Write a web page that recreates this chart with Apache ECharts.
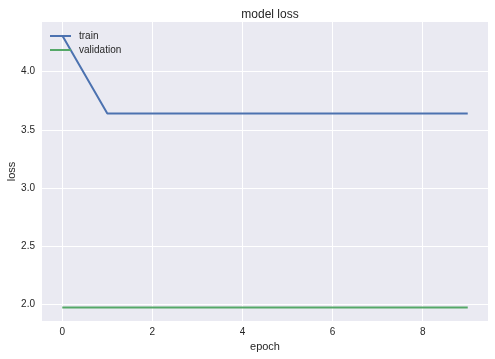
<!DOCTYPE html>
<html><head><meta charset="utf-8">
<script src="https://cdn.jsdelivr.net/npm/echarts@6/dist/echarts.min.js"></script>
<style>html,body{margin:0;padding:0;background:#fff}#c{width:495px;height:359px}</style>
</head><body><div id="c"></div>
<script>
const epochs = [0,1,2,3,4,5,6,7,8,9];
const trainLoss = [4.31,3.64,3.64,3.64,3.64,3.64,3.64,3.64,3.64,3.64];
const valLoss = [1.974,1.974,1.974,1.974,1.974,1.974,1.974,1.974,1.974,1.974];
const xTicks = [0,2,4,6,8];
const yTicks = [2.0,2.5,3.0,3.5,4.0];

const chart = echarts.init(document.getElementById('c'), null, {renderer:'canvas'});
const font = 'Liberation Sans, Arial, sans-serif';
const txt = '#262626';
chart.setOption({
  animation:false,
  backgroundColor:'#fff',
  title:{text:'model loss', left:265, textAlign:'center', top:4,
    textStyle:{fontFamily:font, fontSize:12, fontWeight:'normal', color:txt}},
  legend:{orient:'vertical', left:45, top:26, itemGap:4, itemWidth:21, itemHeight:2,
    icon:'rect', data:['train','validation'],
    textStyle:{fontFamily:font, fontSize:10, color:txt, padding:[0,0,0,3]}},
  grid:{left:42, right:7, top:22, bottom:38, show:true, backgroundColor:'#EAEAF2', borderWidth:0,
    containLabel:false, outerBoundsMode:'none'},
  xAxis:{type:'value', min:-0.45, max:9.45, name:'epoch', nameLocation:'middle', nameGap:20,
    nameMoveOverlap:false,
    nameTextStyle:{fontFamily:font, fontSize:11, color:txt},
    axisLine:{show:false},
    axisTick:{show:false, customValues:xTicks},
    axisLabel:{customValues:xTicks, fontFamily:font, fontSize:10, color:txt, margin:6},
    splitLine:{show:true, lineStyle:{color:'#ffffff', width:1}}},
  yAxis:{type:'value', min:1.857, max:4.427, name:'loss', nameLocation:'middle', nameGap:25, nameRotate:90,
    nameMoveOverlap:false,
    nameTextStyle:{fontFamily:font, fontSize:11, color:txt},
    axisLine:{show:false},
    axisTick:{show:false, customValues:yTicks},
    axisLabel:{customValues:yTicks, fontFamily:font, fontSize:10, color:txt, margin:7,
      formatter:v=>v.toFixed(1)},
    splitLine:{show:true, lineStyle:{color:'#ffffff', width:1}}},
  series:[
    {name:'train', type:'line', data:epochs.map((e,i)=>[e,trainLoss[i]]), showSymbol:false,
     symbol:'none', lineStyle:{color:'#4C72B0', width:2}, itemStyle:{color:'#4C72B0'}},
    {name:'validation', type:'line', data:epochs.map((e,i)=>[e,valLoss[i]]), showSymbol:false,
     symbol:'none', lineStyle:{color:'#55A868', width:2}, itemStyle:{color:'#55A868'}}
  ]
});
</script></body></html>
